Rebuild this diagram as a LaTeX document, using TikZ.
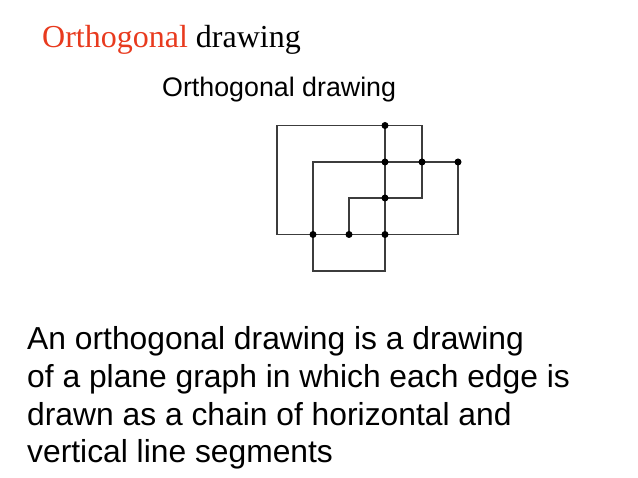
\documentclass[tikz,border=0pt]{standalone}
\usepackage{fontspec}
\setmainfont{Liberation Serif}
\newfontfamily\arialfont{Liberation Sans}
\definecolor{titlered}{RGB}{232,58,30}
\definecolor{edgegray}{RGB}{60,60,60}
\begin{document}
\begin{tikzpicture}[x=1pt,y=-1pt,
  txt/.style={inner sep=0pt,anchor=base west},
  edgeline/.style={draw=edgegray,line width=1.2pt},
  vtx/.style={circle,fill=black,inner sep=0pt,minimum size=7pt}]
\useasboundingbox (0,0) rectangle (638,478);
% titles
\node[txt,font=\fontsize{32}{38}\selectfont] (title) at (42,48) {\textcolor{titlered}{Orthogonal} drawing};
\node[txt,font=\arialfont\fontsize{26.8}{32}\selectfont] (sub) at (162,97) {Orthogonal drawing};
% bends
\coordinate (tl) at (277,125.5);
\coordinate (bl) at (277,234.5);
\coordinate (tr) at (422,125.5);
\coordinate (b2) at (313,162);
\coordinate (r3) at (422,198);
\coordinate (l3) at (349,198);
\coordinate (br) at (458,234.5);
\coordinate (bb1) at (313,271);
\coordinate (bb2) at (385,271);
% vertex positions
\coordinate (pa) at (385,125.5);
\coordinate (pb) at (385,162);
\coordinate (pc) at (422,162);
\coordinate (pd) at (458,162);
\coordinate (pe) at (385,198);
\coordinate (pf) at (313,234.5);
\coordinate (pg) at (349,234.5);
\coordinate (ph) at (385,234.5);
% edges
\draw[edgeline] (pa) -- (tl) -- (bl) -- (pf);
\draw[edgeline] (pa) -- (tr) -- (pc);
\draw[edgeline] (pa) -- (pb);
\draw[edgeline] (pb) -- (pc);
\draw[edgeline] (pc) -- (pd);
\draw[edgeline] (pb) -- (b2) -- (pf);
\draw[edgeline] (pb) -- (pe);
\draw[edgeline] (pe) -- (ph);
\draw[edgeline] (pc) -- (r3) -- (pe);
\draw[edgeline] (pe) -- (l3) -- (pg);
\draw[edgeline] (pf) -- (pg);
\draw[edgeline] (pg) -- (ph);
\draw[edgeline] (ph) -- (br) -- (pd);
\draw[edgeline] (pf) -- (bb1) -- (bb2) -- (ph);
% vertices
\node[vtx] (a) at (pa) {};
\node[vtx] (b) at (pb) {};
\node[vtx] (c) at (pc) {};
\node[vtx] (d) at (pd) {};
\node[vtx] (e) at (pe) {};
\node[vtx] (f) at (pf) {};
\node[vtx] (g) at (pg) {};
\node[vtx] (h) at (ph) {};
% paragraph
\begin{scope}[font=\arialfont\fontsize{31.8}{37.7}\selectfont]
\node[txt] (l1) at (27,349.7) {An orthogonal drawing is a drawing};
\node[txt] (l2) at (27,387.4) {of a plane graph in which each edge is};
\node[txt] (l3t) at (27,425.1) {drawn as a chain of horizontal and};
\node[txt] (l4) at (27,462.8) {vertical line segments};
\end{scope}
\end{tikzpicture}
\end{document}
